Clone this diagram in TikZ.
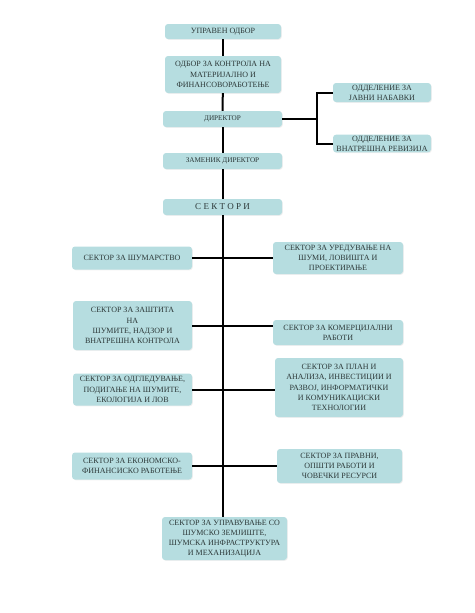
\documentclass[tikz,border=0pt]{standalone}
\usepackage{fontspec}
\setmainfont{Liberation Serif}
\usepackage{xcolor}
\usetikzlibrary{shadows}
\definecolor{boxfill}{HTML}{B6DDE0}
\definecolor{boxtext}{HTML}{2C3838}

\begin{document}
\begin{tikzpicture}[
  x=1pt, y=-1pt,
  font=\fontsize{8}{10.2}\selectfont,
  orgbox/.style={rectangle, rounded corners=3pt, fill=boxfill, draw=none, text=boxtext, align=center, inner sep=1pt, drop shadow={opacity=0.12, shadow xshift=0.8pt, shadow yshift=-0.8pt}},
  link/.style={line width=2pt, black}
]
\useasboundingbox (0,0) rectangle (474,613);
% top of the chart
\node[orgbox, minimum width=116pt, minimum height=15pt] (upr) at (223,31.5) {УПРАВЕН ОДБОР};
\node[orgbox, minimum width=116pt, minimum height=37pt] (kontr) at (223,74.5) {ОДБОР ЗА КОНТРОЛА НА\\МАТЕРИЈАЛНО И\\ФИНАНСОВОРАБОТЕЊЕ};
\node[orgbox, minimum width=119pt, minimum height=16pt, font=\fontsize{7.2}{8}\selectfont] (dir) at (222.5,119) {ДИРЕКТОР};
\node[orgbox, minimum width=119pt, minimum height=16pt, font=\fontsize{7.2}{8}\selectfont] (zam) at (222.5,161) {ЗАМЕНИК ДИРЕКТОР};
\node[orgbox, minimum width=119pt, minimum height=16pt, font=\fontsize{9}{10}\selectfont] (sek) at (222.5,207) {С Е К Т О Р И};
% units under the director
\node[orgbox, minimum width=98pt, minimum height=19pt] (nabavki) at (382,92.5) {ОДДЕЛЕНИЕ ЗА\\ЈАВНИ НАБАВКИ};
\node[orgbox, minimum width=98pt, minimum height=17pt] (revizija) at (382,143.5) {ОДДЕЛЕНИЕ ЗА\\ВНАТРЕШНА РЕВИЗИЈА};
\coordinate (fork) at (317,119);
% sectors
\node[orgbox, minimum width=120pt, minimum height=23pt] (s1l) at (132,258) {СЕКТОР ЗА ШУМАРСТВО};
\node[orgbox, minimum width=130pt, minimum height=32pt] (s1r) at (338,258) {СЕКТОР ЗА УРЕДУВАЊЕ НА\\ШУМИ, ЛОВИШТА И\\ПРОЕКТИРАЊЕ};
\node[orgbox, minimum width=119pt, minimum height=49pt] (s2l) at (132.5,325.5) {СЕКТОР ЗА ЗАШТИТА\\НА\\ШУМИТЕ, НАДЗОР И\\ВНАТРЕШНА КОНТРОЛА};
\node[orgbox, minimum width=130pt, minimum height=25pt] (s2r) at (338,332.5) {СЕКТОР ЗА КОМЕРЦИЈАЛНИ\\РАБОТИ};
\node[orgbox, minimum width=119pt, minimum height=32pt] (s3l) at (132.5,389.5) {СЕКТОР ЗА ОДГЛЕДУВАЊЕ,\\ПОДИГАЊЕ НА ШУМИТЕ,\\ЕКОЛОГИЈА И ЛОВ};
\node[orgbox, minimum width=128pt, minimum height=59pt] (s3r) at (339,387.5) {СЕКТОР ЗА ПЛАН И\\АНАЛИЗА, ИНВЕСТИЦИИ И\\РАЗВОЈ, ИНФОРМАТИЧКИ\\И КОМУНИКАЦИСКИ\\ТЕХНОЛОГИИ};
\node[orgbox, minimum width=120pt, minimum height=27pt] (s4l) at (132,466) {СЕКТОР ЗА ЕКОНОМСКО-\\ФИНАНСИСКО РАБОТЕЊЕ};
\node[orgbox, minimum width=125pt, minimum height=34pt] (s4r) at (339.5,466) {СЕКТОР ЗА ПРАВНИ,\\ОПШТИ РАБОТИ И\\ЧОВЕЧКИ РЕСУРСИ};
\node[orgbox, minimum width=125pt, minimum height=43pt] (bot) at (224.5,538.5) {СЕКТОР ЗА УПРАВУВАЊЕ СО\\ШУМСКО ЗЕМЈИШТЕ,\\ШУМСКА ИНФРАСТРУКТУРА\\И МЕХАНИЗАЦИЈА};
% connectors
\draw[link] (upr) -- (kontr);
\draw[link] (kontr) -- (dir);
\draw[link] (dir) -- (zam);
\draw[link] (zam) -- (sek);
\draw[link] (sek.south) -- (sek.south |- bot.north);
\draw[link] (dir.east) -- (fork);
\draw[link] (fork) |- (nabavki.west);
\draw[link] (fork) |- (revizija.west);
\draw[link] (s1l.east) -- (s1l.east -| s1r.west);
\draw[link] (s2l.east) -- (s2l.east -| s2r.west);
\draw[link] (s3l.east) -- (s3l.east -| s3r.west);
\draw[link] (s4l.east) -- (s4l.east -| s4r.west);
\end{tikzpicture}
\end{document}
